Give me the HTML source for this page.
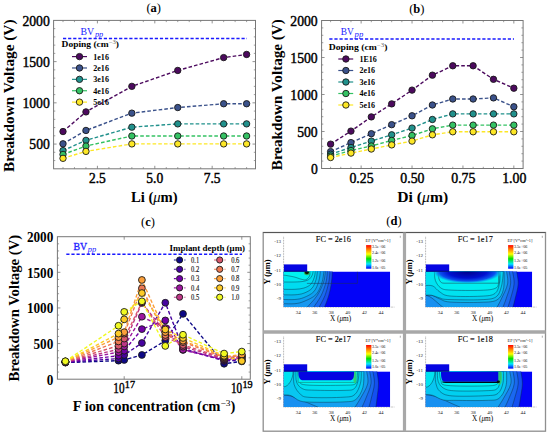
<!DOCTYPE html>
<html><head><meta charset="utf-8"><style>
html,body{margin:0;padding:0;background:#fff;}
svg{display:block;font-family:"Liberation Serif", serif;}
</style></head><body>
<svg width="550" height="434" viewBox="0 0 550 434">
<rect width="550" height="434" fill="#fff"/>
<text x="153.70" y="12.40" font-size="12.5" font-weight="normal" text-anchor="middle" fill="#000" >(<tspan font-weight="bold">a</tspan>)</text>
<rect x="53.6" y="20.4" width="201.9" height="148.4" fill="none" stroke="#777" stroke-width="1"/>
<path d="M53.6 144.07h3M255.5 144.07h-3" stroke="#777" stroke-width="0.8"/>
<path d="M53.6 102.84h3M255.5 102.84h-3" stroke="#777" stroke-width="0.8"/>
<path d="M53.6 61.62h3M255.5 61.62h-3" stroke="#777" stroke-width="0.8"/>
<path d="M53.6 160.56h1.7M255.5 160.56h-1.7" stroke="#777" stroke-width="0.7"/>
<path d="M53.6 152.31h1.7M255.5 152.31h-1.7" stroke="#777" stroke-width="0.7"/>
<path d="M53.6 135.82h1.7M255.5 135.82h-1.7" stroke="#777" stroke-width="0.7"/>
<path d="M53.6 127.58h1.7M255.5 127.58h-1.7" stroke="#777" stroke-width="0.7"/>
<path d="M53.6 119.33h1.7M255.5 119.33h-1.7" stroke="#777" stroke-width="0.7"/>
<path d="M53.6 111.09h1.7M255.5 111.09h-1.7" stroke="#777" stroke-width="0.7"/>
<path d="M53.6 94.60h1.7M255.5 94.60h-1.7" stroke="#777" stroke-width="0.7"/>
<path d="M53.6 86.36h1.7M255.5 86.36h-1.7" stroke="#777" stroke-width="0.7"/>
<path d="M53.6 78.11h1.7M255.5 78.11h-1.7" stroke="#777" stroke-width="0.7"/>
<path d="M53.6 69.87h1.7M255.5 69.87h-1.7" stroke="#777" stroke-width="0.7"/>
<path d="M53.6 53.38h1.7M255.5 53.38h-1.7" stroke="#777" stroke-width="0.7"/>
<path d="M53.6 45.13h1.7M255.5 45.13h-1.7" stroke="#777" stroke-width="0.7"/>
<path d="M53.6 36.89h1.7M255.5 36.89h-1.7" stroke="#777" stroke-width="0.7"/>
<path d="M53.6 28.64h1.7M255.5 28.64h-1.7" stroke="#777" stroke-width="0.7"/>
<path d="M97.42 168.8v-3M97.42 20.4v3" stroke="#777" stroke-width="0.8"/>
<path d="M154.80 168.8v-3M154.80 20.4v3" stroke="#777" stroke-width="0.8"/>
<path d="M212.17 168.8v-3M212.17 20.4v3" stroke="#777" stroke-width="0.8"/>
<path d="M63.00 168.8v-1.7M63.00 20.4v1.7" stroke="#777" stroke-width="0.7"/>
<path d="M74.47 168.8v-1.7M74.47 20.4v1.7" stroke="#777" stroke-width="0.7"/>
<path d="M85.95 168.8v-1.7M85.95 20.4v1.7" stroke="#777" stroke-width="0.7"/>
<path d="M108.90 168.8v-1.7M108.90 20.4v1.7" stroke="#777" stroke-width="0.7"/>
<path d="M120.38 168.8v-1.7M120.38 20.4v1.7" stroke="#777" stroke-width="0.7"/>
<path d="M131.85 168.8v-1.7M131.85 20.4v1.7" stroke="#777" stroke-width="0.7"/>
<path d="M143.32 168.8v-1.7M143.32 20.4v1.7" stroke="#777" stroke-width="0.7"/>
<path d="M166.27 168.8v-1.7M166.27 20.4v1.7" stroke="#777" stroke-width="0.7"/>
<path d="M177.75 168.8v-1.7M177.75 20.4v1.7" stroke="#777" stroke-width="0.7"/>
<path d="M189.22 168.8v-1.7M189.22 20.4v1.7" stroke="#777" stroke-width="0.7"/>
<path d="M200.70 168.8v-1.7M200.70 20.4v1.7" stroke="#777" stroke-width="0.7"/>
<path d="M223.65 168.8v-1.7M223.65 20.4v1.7" stroke="#777" stroke-width="0.7"/>
<path d="M235.12 168.8v-1.7M235.12 20.4v1.7" stroke="#777" stroke-width="0.7"/>
<path d="M246.60 168.8v-1.7M246.60 20.4v1.7" stroke="#777" stroke-width="0.7"/>
<text x="49.80" y="149.37" font-size="14.2" font-weight="normal" text-anchor="end" fill="#000" stroke="#000" stroke-width="0.45" textLength="20.5" lengthAdjust="spacingAndGlyphs">500</text>
<text x="49.80" y="108.14" font-size="14.2" font-weight="normal" text-anchor="end" fill="#000" stroke="#000" stroke-width="0.45" textLength="27.4" lengthAdjust="spacingAndGlyphs">1000</text>
<text x="49.80" y="66.92" font-size="14.2" font-weight="normal" text-anchor="end" fill="#000" stroke="#000" stroke-width="0.45" textLength="27.4" lengthAdjust="spacingAndGlyphs">1500</text>
<text x="49.80" y="25.70" font-size="14.2" font-weight="normal" text-anchor="end" fill="#000" stroke="#000" stroke-width="0.45" textLength="27.4" lengthAdjust="spacingAndGlyphs">2000</text>
<text x="97.42" y="183.10" font-size="14" font-weight="normal" text-anchor="middle" fill="#000" stroke="#000" stroke-width="0.45" textLength="16.9" lengthAdjust="spacingAndGlyphs">2.5</text>
<text x="154.80" y="183.10" font-size="14" font-weight="normal" text-anchor="middle" fill="#000" stroke="#000" stroke-width="0.45" textLength="16.9" lengthAdjust="spacingAndGlyphs">5.0</text>
<text x="212.17" y="183.10" font-size="14" font-weight="normal" text-anchor="middle" fill="#000" stroke="#000" stroke-width="0.45" textLength="16.9" lengthAdjust="spacingAndGlyphs">7.5</text>
<text x="130.90" y="201.80" font-size="14" font-weight="bold" text-anchor="start" fill="#000" textLength="46.8" lengthAdjust="spacingAndGlyphs">Li (<tspan font-style="italic" font-weight="normal">μ</tspan>m)</text>
<text transform="translate(14.0 172.0) rotate(-90)" font-size="15.5" font-weight="bold" textLength="152.5" lengthAdjust="spacingAndGlyphs">Breakdown Voltage (V)</text>
<path d="M63 38.4H247" stroke="#1a1aff" stroke-width="1.5" stroke-dasharray="3.2 1.9"/>
<text x="80.60" y="35.30" font-size="11" font-weight="normal" text-anchor="start" fill="#1a1aff" textLength="13.6" lengthAdjust="spacingAndGlyphs">BV</text>
<text x="95.00" y="37.20" font-size="8" font-weight="normal" text-anchor="start" fill="#1a1aff" font-style="italic" textLength="8.2" lengthAdjust="spacingAndGlyphs">pp</text>
<text x="61.60" y="46.80" font-size="8.5" font-weight="bold" text-anchor="start" fill="#000" textLength="57.4" lengthAdjust="spacingAndGlyphs">Doping (cm<tspan font-size="6" dy="-3" font-weight="normal" fill="#666">−3</tspan><tspan dy="3">)</tspan></text>
<path d="M63.00 131.54 L85.95 111.91 L131.85 86.36 L177.75 70.44 L223.65 57.58 L246.60 54.45" fill="none" stroke="#4c0a5e" stroke-width="1.4" stroke-dasharray="3.6 2.1"/>
<path d="M63.00 143.82 L85.95 130.46 L131.85 113.15 L177.75 107.54 L223.65 103.75 L246.60 103.75" fill="none" stroke="#3b528b" stroke-width="1.4" stroke-dasharray="3.6 2.1"/>
<path d="M63.00 150.58 L85.95 140.36 L131.85 127.17 L177.75 123.87 L223.65 123.87 L246.60 123.87" fill="none" stroke="#21918c" stroke-width="1.4" stroke-dasharray="3.6 2.1"/>
<path d="M63.00 154.45 L85.95 146.05 L131.85 135.99 L177.75 135.99 L223.65 135.99 L246.60 135.99" fill="none" stroke="#34c263" stroke-width="1.4" stroke-dasharray="3.6 2.1"/>
<path d="M63.00 158.33 L85.95 151.40 L131.85 143.90 L177.75 143.90 L223.65 143.90 L246.60 143.90" fill="none" stroke="#fde725" stroke-width="1.4" stroke-dasharray="3.6 2.1"/>
<circle cx="63.00" cy="131.54" r="3.2" fill="#4c0a5e" stroke="#1a1a1a" stroke-width="0.9"/>
<circle cx="85.95" cy="111.91" r="3.2" fill="#4c0a5e" stroke="#1a1a1a" stroke-width="0.9"/>
<circle cx="131.85" cy="86.36" r="3.2" fill="#4c0a5e" stroke="#1a1a1a" stroke-width="0.9"/>
<circle cx="177.75" cy="70.44" r="3.2" fill="#4c0a5e" stroke="#1a1a1a" stroke-width="0.9"/>
<circle cx="223.65" cy="57.58" r="3.2" fill="#4c0a5e" stroke="#1a1a1a" stroke-width="0.9"/>
<circle cx="246.60" cy="54.45" r="3.2" fill="#4c0a5e" stroke="#1a1a1a" stroke-width="0.9"/>
<circle cx="63.00" cy="143.82" r="3.2" fill="#3b528b" stroke="#1a1a1a" stroke-width="0.9"/>
<circle cx="85.95" cy="130.46" r="3.2" fill="#3b528b" stroke="#1a1a1a" stroke-width="0.9"/>
<circle cx="131.85" cy="113.15" r="3.2" fill="#3b528b" stroke="#1a1a1a" stroke-width="0.9"/>
<circle cx="177.75" cy="107.54" r="3.2" fill="#3b528b" stroke="#1a1a1a" stroke-width="0.9"/>
<circle cx="223.65" cy="103.75" r="3.2" fill="#3b528b" stroke="#1a1a1a" stroke-width="0.9"/>
<circle cx="246.60" cy="103.75" r="3.2" fill="#3b528b" stroke="#1a1a1a" stroke-width="0.9"/>
<circle cx="63.00" cy="150.58" r="3.2" fill="#21918c" stroke="#1a1a1a" stroke-width="0.9"/>
<circle cx="85.95" cy="140.36" r="3.2" fill="#21918c" stroke="#1a1a1a" stroke-width="0.9"/>
<circle cx="131.85" cy="127.17" r="3.2" fill="#21918c" stroke="#1a1a1a" stroke-width="0.9"/>
<circle cx="177.75" cy="123.87" r="3.2" fill="#21918c" stroke="#1a1a1a" stroke-width="0.9"/>
<circle cx="223.65" cy="123.87" r="3.2" fill="#21918c" stroke="#1a1a1a" stroke-width="0.9"/>
<circle cx="246.60" cy="123.87" r="3.2" fill="#21918c" stroke="#1a1a1a" stroke-width="0.9"/>
<circle cx="63.00" cy="154.45" r="3.2" fill="#34c263" stroke="#1a1a1a" stroke-width="0.9"/>
<circle cx="85.95" cy="146.05" r="3.2" fill="#34c263" stroke="#1a1a1a" stroke-width="0.9"/>
<circle cx="131.85" cy="135.99" r="3.2" fill="#34c263" stroke="#1a1a1a" stroke-width="0.9"/>
<circle cx="177.75" cy="135.99" r="3.2" fill="#34c263" stroke="#1a1a1a" stroke-width="0.9"/>
<circle cx="223.65" cy="135.99" r="3.2" fill="#34c263" stroke="#1a1a1a" stroke-width="0.9"/>
<circle cx="246.60" cy="135.99" r="3.2" fill="#34c263" stroke="#1a1a1a" stroke-width="0.9"/>
<circle cx="63.00" cy="158.33" r="3.2" fill="#fde725" stroke="#1a1a1a" stroke-width="0.9"/>
<circle cx="85.95" cy="151.40" r="3.2" fill="#fde725" stroke="#1a1a1a" stroke-width="0.9"/>
<circle cx="131.85" cy="143.90" r="3.2" fill="#fde725" stroke="#1a1a1a" stroke-width="0.9"/>
<circle cx="177.75" cy="143.90" r="3.2" fill="#fde725" stroke="#1a1a1a" stroke-width="0.9"/>
<circle cx="223.65" cy="143.90" r="3.2" fill="#fde725" stroke="#1a1a1a" stroke-width="0.9"/>
<circle cx="246.60" cy="143.90" r="3.2" fill="#fde725" stroke="#1a1a1a" stroke-width="0.9"/>
<path d="M72 56.60H87" stroke="#4c0a5e" stroke-width="1.2"/>
<circle cx="79.50" cy="56.60" r="3.2" fill="#4c0a5e" stroke="#1a1a1a" stroke-width="0.9"/>
<text x="93.30" y="59.50" font-size="8" font-weight="bold" text-anchor="start" fill="#000" textLength="15.6" lengthAdjust="spacingAndGlyphs">1e16</text>
<path d="M72 67.98H87" stroke="#3b528b" stroke-width="1.2"/>
<circle cx="79.50" cy="67.98" r="3.2" fill="#3b528b" stroke="#1a1a1a" stroke-width="0.9"/>
<text x="93.30" y="70.88" font-size="8" font-weight="bold" text-anchor="start" fill="#000" textLength="15.6" lengthAdjust="spacingAndGlyphs">2e16</text>
<path d="M72 79.36H87" stroke="#21918c" stroke-width="1.2"/>
<circle cx="79.50" cy="79.36" r="3.2" fill="#21918c" stroke="#1a1a1a" stroke-width="0.9"/>
<text x="93.30" y="82.26" font-size="8" font-weight="bold" text-anchor="start" fill="#000" textLength="15.6" lengthAdjust="spacingAndGlyphs">3e16</text>
<path d="M72 90.74H87" stroke="#34c263" stroke-width="1.2"/>
<circle cx="79.50" cy="90.74" r="3.2" fill="#34c263" stroke="#1a1a1a" stroke-width="0.9"/>
<text x="93.30" y="93.64" font-size="8" font-weight="bold" text-anchor="start" fill="#000" textLength="15.6" lengthAdjust="spacingAndGlyphs">4e16</text>
<path d="M72 102.12H87" stroke="#fde725" stroke-width="1.2"/>
<circle cx="79.50" cy="102.12" r="3.2" fill="#fde725" stroke="#1a1a1a" stroke-width="0.9"/>
<text x="93.30" y="105.02" font-size="8" font-weight="bold" text-anchor="start" fill="#000" textLength="15.6" lengthAdjust="spacingAndGlyphs">5e16</text>
<text x="416.80" y="13.00" font-size="12.5" font-weight="normal" text-anchor="middle" fill="#000" >(<tspan font-weight="bold">b</tspan>)</text>
<rect x="321.6" y="20.5" width="201.5" height="148.0" fill="none" stroke="#777" stroke-width="1"/>
<path d="M321.6 131.50h3M523.1 131.50h-3" stroke="#777" stroke-width="0.8"/>
<path d="M321.6 94.50h3M523.1 94.50h-3" stroke="#777" stroke-width="0.8"/>
<path d="M321.6 57.50h3M523.1 57.50h-3" stroke="#777" stroke-width="0.8"/>
<path d="M321.6 161.10h1.7M523.1 161.10h-1.7" stroke="#777" stroke-width="0.7"/>
<path d="M321.6 153.70h1.7M523.1 153.70h-1.7" stroke="#777" stroke-width="0.7"/>
<path d="M321.6 146.30h1.7M523.1 146.30h-1.7" stroke="#777" stroke-width="0.7"/>
<path d="M321.6 138.90h1.7M523.1 138.90h-1.7" stroke="#777" stroke-width="0.7"/>
<path d="M321.6 124.10h1.7M523.1 124.10h-1.7" stroke="#777" stroke-width="0.7"/>
<path d="M321.6 116.70h1.7M523.1 116.70h-1.7" stroke="#777" stroke-width="0.7"/>
<path d="M321.6 109.30h1.7M523.1 109.30h-1.7" stroke="#777" stroke-width="0.7"/>
<path d="M321.6 101.90h1.7M523.1 101.90h-1.7" stroke="#777" stroke-width="0.7"/>
<path d="M321.6 87.10h1.7M523.1 87.10h-1.7" stroke="#777" stroke-width="0.7"/>
<path d="M321.6 79.70h1.7M523.1 79.70h-1.7" stroke="#777" stroke-width="0.7"/>
<path d="M321.6 72.30h1.7M523.1 72.30h-1.7" stroke="#777" stroke-width="0.7"/>
<path d="M321.6 64.90h1.7M523.1 64.90h-1.7" stroke="#777" stroke-width="0.7"/>
<path d="M321.6 50.10h1.7M523.1 50.10h-1.7" stroke="#777" stroke-width="0.7"/>
<path d="M321.6 42.70h1.7M523.1 42.70h-1.7" stroke="#777" stroke-width="0.7"/>
<path d="M321.6 35.30h1.7M523.1 35.30h-1.7" stroke="#777" stroke-width="0.7"/>
<path d="M321.6 27.90h1.7M523.1 27.90h-1.7" stroke="#777" stroke-width="0.7"/>
<path d="M361.14 168.5v-3M361.14 20.5v3" stroke="#777" stroke-width="0.8"/>
<path d="M412.04 168.5v-3M412.04 20.5v3" stroke="#777" stroke-width="0.8"/>
<path d="M462.94 168.5v-3M462.94 20.5v3" stroke="#777" stroke-width="0.8"/>
<path d="M513.84 168.5v-3M513.84 20.5v3" stroke="#777" stroke-width="0.8"/>
<path d="M330.60 168.5v-1.7M330.60 20.5v1.7" stroke="#777" stroke-width="0.7"/>
<path d="M340.78 168.5v-1.7M340.78 20.5v1.7" stroke="#777" stroke-width="0.7"/>
<path d="M350.96 168.5v-1.7M350.96 20.5v1.7" stroke="#777" stroke-width="0.7"/>
<path d="M371.32 168.5v-1.7M371.32 20.5v1.7" stroke="#777" stroke-width="0.7"/>
<path d="M381.50 168.5v-1.7M381.50 20.5v1.7" stroke="#777" stroke-width="0.7"/>
<path d="M391.68 168.5v-1.7M391.68 20.5v1.7" stroke="#777" stroke-width="0.7"/>
<path d="M401.86 168.5v-1.7M401.86 20.5v1.7" stroke="#777" stroke-width="0.7"/>
<path d="M422.22 168.5v-1.7M422.22 20.5v1.7" stroke="#777" stroke-width="0.7"/>
<path d="M432.40 168.5v-1.7M432.40 20.5v1.7" stroke="#777" stroke-width="0.7"/>
<path d="M442.58 168.5v-1.7M442.58 20.5v1.7" stroke="#777" stroke-width="0.7"/>
<path d="M452.76 168.5v-1.7M452.76 20.5v1.7" stroke="#777" stroke-width="0.7"/>
<path d="M473.12 168.5v-1.7M473.12 20.5v1.7" stroke="#777" stroke-width="0.7"/>
<path d="M483.30 168.5v-1.7M483.30 20.5v1.7" stroke="#777" stroke-width="0.7"/>
<path d="M493.48 168.5v-1.7M493.48 20.5v1.7" stroke="#777" stroke-width="0.7"/>
<path d="M503.66 168.5v-1.7M503.66 20.5v1.7" stroke="#777" stroke-width="0.7"/>
<text x="317.70" y="173.80" font-size="14.2" font-weight="normal" text-anchor="end" fill="#000" stroke="#000" stroke-width="0.45" textLength="6.8" lengthAdjust="spacingAndGlyphs">0</text>
<text x="317.70" y="136.80" font-size="14.2" font-weight="normal" text-anchor="end" fill="#000" stroke="#000" stroke-width="0.45" textLength="20.5" lengthAdjust="spacingAndGlyphs">500</text>
<text x="317.70" y="99.80" font-size="14.2" font-weight="normal" text-anchor="end" fill="#000" stroke="#000" stroke-width="0.45" textLength="27.4" lengthAdjust="spacingAndGlyphs">1000</text>
<text x="317.70" y="62.80" font-size="14.2" font-weight="normal" text-anchor="end" fill="#000" stroke="#000" stroke-width="0.45" textLength="27.4" lengthAdjust="spacingAndGlyphs">1500</text>
<text x="317.70" y="25.80" font-size="14.2" font-weight="normal" text-anchor="end" fill="#000" stroke="#000" stroke-width="0.45" textLength="27.4" lengthAdjust="spacingAndGlyphs">2000</text>
<text x="361.54" y="183.30" font-size="14.5" font-weight="normal" text-anchor="middle" fill="#000" stroke="#000" stroke-width="0.45" textLength="24.2" lengthAdjust="spacingAndGlyphs">0.25</text>
<text x="412.44" y="183.30" font-size="14.5" font-weight="normal" text-anchor="middle" fill="#000" stroke="#000" stroke-width="0.45" textLength="24.2" lengthAdjust="spacingAndGlyphs">0.50</text>
<text x="463.34" y="183.30" font-size="14.5" font-weight="normal" text-anchor="middle" fill="#000" stroke="#000" stroke-width="0.45" textLength="24.2" lengthAdjust="spacingAndGlyphs">0.75</text>
<text x="514.24" y="183.30" font-size="14.5" font-weight="normal" text-anchor="middle" fill="#000" stroke="#000" stroke-width="0.45" textLength="24.2" lengthAdjust="spacingAndGlyphs">1.00</text>
<text x="397.30" y="201.80" font-size="14" font-weight="bold" text-anchor="start" fill="#000" textLength="50.9" lengthAdjust="spacingAndGlyphs">Di (<tspan font-style="italic" font-weight="normal">μ</tspan>m)</text>
<text transform="translate(281.8 170.2) rotate(-90)" font-size="15.5" font-weight="bold" textLength="151" lengthAdjust="spacingAndGlyphs">Breakdown Voltage (V)</text>
<path d="M329.3 38.9H514" stroke="#1a1aff" stroke-width="1.5" stroke-dasharray="3.2 1.9"/>
<text x="340.70" y="35.30" font-size="11" font-weight="normal" text-anchor="start" fill="#1a1aff" textLength="13.0" lengthAdjust="spacingAndGlyphs">BV</text>
<text x="354.60" y="37.40" font-size="8" font-weight="normal" text-anchor="start" fill="#1a1aff" font-style="italic" textLength="8.6" lengthAdjust="spacingAndGlyphs">pp</text>
<text x="328.70" y="50.30" font-size="8.5" font-weight="bold" text-anchor="start" fill="#000" textLength="58.7" lengthAdjust="spacingAndGlyphs">Doping (cm<tspan font-size="6" dy="-3" font-weight="normal" fill="#666">−3</tspan><tspan dy="3">)</tspan></text>
<path d="M330.60 144.14 L350.96 131.11 L371.32 116.90 L391.68 103.88 L412.04 90.12 L432.40 75.17 L452.76 65.77 L473.12 65.77 L493.48 79.31 L513.84 88.19" fill="none" stroke="#4c0a5e" stroke-width="1.4" stroke-dasharray="3.6 2.1"/>
<path d="M330.60 151.61 L350.96 142.58 L371.32 133.70 L391.68 124.67 L412.04 115.79 L432.40 104.99 L452.76 99.00 L473.12 99.00 L493.48 97.89 L513.84 106.77" fill="none" stroke="#3b528b" stroke-width="1.4" stroke-dasharray="3.6 2.1"/>
<path d="M330.60 154.20 L350.96 147.54 L371.32 141.10 L391.68 134.81 L412.04 128.08 L432.40 119.49 L452.76 113.87 L473.12 113.87 L493.48 113.87 L513.84 113.87" fill="none" stroke="#21918c" stroke-width="1.4" stroke-dasharray="3.6 2.1"/>
<path d="M330.60 156.05 L350.96 150.50 L371.32 145.99 L391.68 140.44 L412.04 135.48 L432.40 128.82 L452.76 125.12 L473.12 125.12 L493.48 125.12 L513.84 125.12" fill="none" stroke="#34c263" stroke-width="1.4" stroke-dasharray="3.6 2.1"/>
<path d="M330.60 157.53 L350.96 153.09 L371.32 149.02 L391.68 144.88 L412.04 141.10 L432.40 134.81 L452.76 131.78 L473.12 131.78 L493.48 131.78 L513.84 131.78" fill="none" stroke="#fde725" stroke-width="1.4" stroke-dasharray="3.6 2.1"/>
<circle cx="330.60" cy="144.14" r="3.2" fill="#4c0a5e" stroke="#1a1a1a" stroke-width="0.9"/>
<circle cx="350.96" cy="131.11" r="3.2" fill="#4c0a5e" stroke="#1a1a1a" stroke-width="0.9"/>
<circle cx="371.32" cy="116.90" r="3.2" fill="#4c0a5e" stroke="#1a1a1a" stroke-width="0.9"/>
<circle cx="391.68" cy="103.88" r="3.2" fill="#4c0a5e" stroke="#1a1a1a" stroke-width="0.9"/>
<circle cx="412.04" cy="90.12" r="3.2" fill="#4c0a5e" stroke="#1a1a1a" stroke-width="0.9"/>
<circle cx="432.40" cy="75.17" r="3.2" fill="#4c0a5e" stroke="#1a1a1a" stroke-width="0.9"/>
<circle cx="452.76" cy="65.77" r="3.2" fill="#4c0a5e" stroke="#1a1a1a" stroke-width="0.9"/>
<circle cx="473.12" cy="65.77" r="3.2" fill="#4c0a5e" stroke="#1a1a1a" stroke-width="0.9"/>
<circle cx="493.48" cy="79.31" r="3.2" fill="#4c0a5e" stroke="#1a1a1a" stroke-width="0.9"/>
<circle cx="513.84" cy="88.19" r="3.2" fill="#4c0a5e" stroke="#1a1a1a" stroke-width="0.9"/>
<circle cx="330.60" cy="151.61" r="3.2" fill="#3b528b" stroke="#1a1a1a" stroke-width="0.9"/>
<circle cx="350.96" cy="142.58" r="3.2" fill="#3b528b" stroke="#1a1a1a" stroke-width="0.9"/>
<circle cx="371.32" cy="133.70" r="3.2" fill="#3b528b" stroke="#1a1a1a" stroke-width="0.9"/>
<circle cx="391.68" cy="124.67" r="3.2" fill="#3b528b" stroke="#1a1a1a" stroke-width="0.9"/>
<circle cx="412.04" cy="115.79" r="3.2" fill="#3b528b" stroke="#1a1a1a" stroke-width="0.9"/>
<circle cx="432.40" cy="104.99" r="3.2" fill="#3b528b" stroke="#1a1a1a" stroke-width="0.9"/>
<circle cx="452.76" cy="99.00" r="3.2" fill="#3b528b" stroke="#1a1a1a" stroke-width="0.9"/>
<circle cx="473.12" cy="99.00" r="3.2" fill="#3b528b" stroke="#1a1a1a" stroke-width="0.9"/>
<circle cx="493.48" cy="97.89" r="3.2" fill="#3b528b" stroke="#1a1a1a" stroke-width="0.9"/>
<circle cx="513.84" cy="106.77" r="3.2" fill="#3b528b" stroke="#1a1a1a" stroke-width="0.9"/>
<circle cx="330.60" cy="154.20" r="3.2" fill="#21918c" stroke="#1a1a1a" stroke-width="0.9"/>
<circle cx="350.96" cy="147.54" r="3.2" fill="#21918c" stroke="#1a1a1a" stroke-width="0.9"/>
<circle cx="371.32" cy="141.10" r="3.2" fill="#21918c" stroke="#1a1a1a" stroke-width="0.9"/>
<circle cx="391.68" cy="134.81" r="3.2" fill="#21918c" stroke="#1a1a1a" stroke-width="0.9"/>
<circle cx="412.04" cy="128.08" r="3.2" fill="#21918c" stroke="#1a1a1a" stroke-width="0.9"/>
<circle cx="432.40" cy="119.49" r="3.2" fill="#21918c" stroke="#1a1a1a" stroke-width="0.9"/>
<circle cx="452.76" cy="113.87" r="3.2" fill="#21918c" stroke="#1a1a1a" stroke-width="0.9"/>
<circle cx="473.12" cy="113.87" r="3.2" fill="#21918c" stroke="#1a1a1a" stroke-width="0.9"/>
<circle cx="493.48" cy="113.87" r="3.2" fill="#21918c" stroke="#1a1a1a" stroke-width="0.9"/>
<circle cx="513.84" cy="113.87" r="3.2" fill="#21918c" stroke="#1a1a1a" stroke-width="0.9"/>
<circle cx="330.60" cy="156.05" r="3.2" fill="#34c263" stroke="#1a1a1a" stroke-width="0.9"/>
<circle cx="350.96" cy="150.50" r="3.2" fill="#34c263" stroke="#1a1a1a" stroke-width="0.9"/>
<circle cx="371.32" cy="145.99" r="3.2" fill="#34c263" stroke="#1a1a1a" stroke-width="0.9"/>
<circle cx="391.68" cy="140.44" r="3.2" fill="#34c263" stroke="#1a1a1a" stroke-width="0.9"/>
<circle cx="412.04" cy="135.48" r="3.2" fill="#34c263" stroke="#1a1a1a" stroke-width="0.9"/>
<circle cx="432.40" cy="128.82" r="3.2" fill="#34c263" stroke="#1a1a1a" stroke-width="0.9"/>
<circle cx="452.76" cy="125.12" r="3.2" fill="#34c263" stroke="#1a1a1a" stroke-width="0.9"/>
<circle cx="473.12" cy="125.12" r="3.2" fill="#34c263" stroke="#1a1a1a" stroke-width="0.9"/>
<circle cx="493.48" cy="125.12" r="3.2" fill="#34c263" stroke="#1a1a1a" stroke-width="0.9"/>
<circle cx="513.84" cy="125.12" r="3.2" fill="#34c263" stroke="#1a1a1a" stroke-width="0.9"/>
<circle cx="330.60" cy="157.53" r="3.2" fill="#fde725" stroke="#1a1a1a" stroke-width="0.9"/>
<circle cx="350.96" cy="153.09" r="3.2" fill="#fde725" stroke="#1a1a1a" stroke-width="0.9"/>
<circle cx="371.32" cy="149.02" r="3.2" fill="#fde725" stroke="#1a1a1a" stroke-width="0.9"/>
<circle cx="391.68" cy="144.88" r="3.2" fill="#fde725" stroke="#1a1a1a" stroke-width="0.9"/>
<circle cx="412.04" cy="141.10" r="3.2" fill="#fde725" stroke="#1a1a1a" stroke-width="0.9"/>
<circle cx="432.40" cy="134.81" r="3.2" fill="#fde725" stroke="#1a1a1a" stroke-width="0.9"/>
<circle cx="452.76" cy="131.78" r="3.2" fill="#fde725" stroke="#1a1a1a" stroke-width="0.9"/>
<circle cx="473.12" cy="131.78" r="3.2" fill="#fde725" stroke="#1a1a1a" stroke-width="0.9"/>
<circle cx="493.48" cy="131.78" r="3.2" fill="#fde725" stroke="#1a1a1a" stroke-width="0.9"/>
<circle cx="513.84" cy="131.78" r="3.2" fill="#fde725" stroke="#1a1a1a" stroke-width="0.9"/>
<path d="M338.3 59.00H353.2" stroke="#4c0a5e" stroke-width="1.2"/>
<circle cx="345.90" cy="59.00" r="3.2" fill="#4c0a5e" stroke="#1a1a1a" stroke-width="0.9"/>
<text x="359.40" y="61.90" font-size="8" font-weight="bold" text-anchor="start" fill="#000" >1E16</text>
<path d="M338.3 70.50H353.2" stroke="#3b528b" stroke-width="1.2"/>
<circle cx="345.90" cy="70.50" r="3.2" fill="#3b528b" stroke="#1a1a1a" stroke-width="0.9"/>
<text x="359.40" y="73.40" font-size="8" font-weight="bold" text-anchor="start" fill="#000" >2e16</text>
<path d="M338.3 82.00H353.2" stroke="#21918c" stroke-width="1.2"/>
<circle cx="345.90" cy="82.00" r="3.2" fill="#21918c" stroke="#1a1a1a" stroke-width="0.9"/>
<text x="359.40" y="84.90" font-size="8" font-weight="bold" text-anchor="start" fill="#000" >3e16</text>
<path d="M338.3 93.50H353.2" stroke="#34c263" stroke-width="1.2"/>
<circle cx="345.90" cy="93.50" r="3.2" fill="#34c263" stroke="#1a1a1a" stroke-width="0.9"/>
<text x="359.40" y="96.40" font-size="8" font-weight="bold" text-anchor="start" fill="#000" >4e16</text>
<path d="M338.3 105.00H353.2" stroke="#fde725" stroke-width="1.2"/>
<circle cx="345.90" cy="105.00" r="3.2" fill="#fde725" stroke="#1a1a1a" stroke-width="0.9"/>
<text x="359.40" y="107.90" font-size="8" font-weight="bold" text-anchor="start" fill="#000" >5e16</text>
<text x="148.00" y="226.10" font-size="12.5" font-weight="normal" text-anchor="middle" fill="#000" >(<tspan font-weight="bold">c</tspan>)</text>
<rect x="57.4" y="236.7" width="192.9" height="142.5" fill="none" stroke="#777" stroke-width="1"/>
<path d="M57.4 343.57h3M250.3 343.57h-3" stroke="#777" stroke-width="0.8"/>
<path d="M57.4 307.95h3M250.3 307.95h-3" stroke="#777" stroke-width="0.8"/>
<path d="M57.4 272.32h3M250.3 272.32h-3" stroke="#777" stroke-width="0.8"/>
<path d="M57.4 372.07h1.7M250.3 372.07h-1.7" stroke="#777" stroke-width="0.7"/>
<path d="M57.4 364.95h1.7M250.3 364.95h-1.7" stroke="#777" stroke-width="0.7"/>
<path d="M57.4 357.82h1.7M250.3 357.82h-1.7" stroke="#777" stroke-width="0.7"/>
<path d="M57.4 350.70h1.7M250.3 350.70h-1.7" stroke="#777" stroke-width="0.7"/>
<path d="M57.4 336.45h1.7M250.3 336.45h-1.7" stroke="#777" stroke-width="0.7"/>
<path d="M57.4 329.32h1.7M250.3 329.32h-1.7" stroke="#777" stroke-width="0.7"/>
<path d="M57.4 322.20h1.7M250.3 322.20h-1.7" stroke="#777" stroke-width="0.7"/>
<path d="M57.4 315.07h1.7M250.3 315.07h-1.7" stroke="#777" stroke-width="0.7"/>
<path d="M57.4 300.82h1.7M250.3 300.82h-1.7" stroke="#777" stroke-width="0.7"/>
<path d="M57.4 293.70h1.7M250.3 293.70h-1.7" stroke="#777" stroke-width="0.7"/>
<path d="M57.4 286.57h1.7M250.3 286.57h-1.7" stroke="#777" stroke-width="0.7"/>
<path d="M57.4 279.45h1.7M250.3 279.45h-1.7" stroke="#777" stroke-width="0.7"/>
<path d="M57.4 265.20h1.7M250.3 265.20h-1.7" stroke="#777" stroke-width="0.7"/>
<path d="M57.4 258.07h1.7M250.3 258.07h-1.7" stroke="#777" stroke-width="0.7"/>
<path d="M57.4 250.95h1.7M250.3 250.95h-1.7" stroke="#777" stroke-width="0.7"/>
<path d="M57.4 243.82h1.7M250.3 243.82h-1.7" stroke="#777" stroke-width="0.7"/>
<path d="M124.20 379.2v-3M124.20 236.7v3" stroke="#777" stroke-width="0.8"/>
<path d="M241.80 379.2v-3M241.80 236.7v3" stroke="#777" stroke-width="0.8"/>
<text x="53.30" y="384.50" font-size="13.8" font-weight="bold" text-anchor="end" fill="#000" textLength="6.6" lengthAdjust="spacingAndGlyphs">0</text>
<text x="53.30" y="348.88" font-size="13.8" font-weight="bold" text-anchor="end" fill="#000" textLength="19.8" lengthAdjust="spacingAndGlyphs">500</text>
<text x="53.30" y="313.25" font-size="13.8" font-weight="bold" text-anchor="end" fill="#000" textLength="26.4" lengthAdjust="spacingAndGlyphs">1000</text>
<text x="53.30" y="277.62" font-size="13.8" font-weight="bold" text-anchor="end" fill="#000" textLength="26.4" lengthAdjust="spacingAndGlyphs">1500</text>
<text x="53.30" y="242.00" font-size="13.8" font-weight="bold" text-anchor="end" fill="#000" textLength="26.4" lengthAdjust="spacingAndGlyphs">2000</text>
<text x="113.30" y="393.00" font-size="14.5" font-weight="normal" text-anchor="start" fill="#000" stroke="#000" stroke-width="0.45" textLength="11.2" lengthAdjust="spacingAndGlyphs">10</text>
<text x="124.80" y="387.90" font-size="9.5" font-weight="normal" text-anchor="start" fill="#000" stroke="#000" stroke-width="0.35" textLength="10.2" lengthAdjust="spacingAndGlyphs">17</text>
<text x="230.90" y="393.00" font-size="14.5" font-weight="normal" text-anchor="start" fill="#000" stroke="#000" stroke-width="0.45" textLength="11.2" lengthAdjust="spacingAndGlyphs">10</text>
<text x="242.40" y="387.90" font-size="9.5" font-weight="normal" text-anchor="start" fill="#000" stroke="#000" stroke-width="0.35" textLength="10.2" lengthAdjust="spacingAndGlyphs">19</text>
<text x="72.70" y="411.40" font-size="14" font-weight="bold" text-anchor="start" fill="#000" textLength="162.6" lengthAdjust="spacingAndGlyphs">F ion concentration (cm<tspan font-size="9" font-weight="normal" dy="-5">−3</tspan><tspan dy="5">)</tspan></text>
<text transform="translate(18.8 381.6) rotate(-90)" font-size="15" font-weight="bold" textLength="146.8" lengthAdjust="spacingAndGlyphs">Breakdown Voltage (V)</text>
<path d="M66.3 254.3H242" stroke="#1a1aff" stroke-width="1.5" stroke-dasharray="3.2 1.9"/>
<text x="73.40" y="250.30" font-size="11" font-weight="normal" text-anchor="start" fill="#1a1aff" stroke="#1a1aff" stroke-width="0.3" textLength="13.7" lengthAdjust="spacingAndGlyphs">BV</text>
<text x="87.80" y="252.30" font-size="8" font-weight="normal" text-anchor="start" fill="#1a1aff" font-style="italic" textLength="8.4" lengthAdjust="spacingAndGlyphs">pp</text>
<text x="169.50" y="251.40" font-size="8.5" font-weight="bold" text-anchor="start" fill="#000" textLength="75.6" lengthAdjust="spacingAndGlyphs">Implant depth (μm)</text>
<path d="M65.40 362.60 L118.50 360.68 L124.20 359.96 L141.90 354.97 L165.30 340.72 L183.00 313.86 L224.10 363.74 L241.80 361.39" fill="none" stroke="#0d0887" stroke-width="1.4" stroke-dasharray="3.6 2.1"/>
<path d="M65.40 362.38 L118.50 358.54 L124.20 354.97 L141.90 343.00 L165.30 302.75 L183.00 348.56 L224.10 360.89 L241.80 360.32" fill="none" stroke="#46039f" stroke-width="1.4" stroke-dasharray="3.6 2.1"/>
<path d="M65.40 362.24 L118.50 355.69 L124.20 350.70 L141.90 329.11 L165.30 320.42 L183.00 349.92 L224.10 359.96 L241.80 358.89" fill="none" stroke="#7201a8" stroke-width="1.4" stroke-dasharray="3.6 2.1"/>
<path d="M65.40 362.10 L118.50 352.12 L124.20 346.43 L141.90 316.71 L165.30 327.90 L183.00 349.63 L224.10 359.39 L241.80 357.82" fill="none" stroke="#9c179e" stroke-width="1.4" stroke-dasharray="3.6 2.1"/>
<path d="M65.40 361.96 L118.50 349.27 L124.20 343.57 L141.90 302.96 L165.30 332.18 L183.00 346.71 L224.10 358.68 L241.80 356.76" fill="none" stroke="#bd3786" stroke-width="1.4" stroke-dasharray="3.6 2.1"/>
<path d="M65.40 361.81 L118.50 345.71 L124.20 338.59 L141.90 302.25 L165.30 337.02 L183.00 345.00 L224.10 357.97 L241.80 356.04" fill="none" stroke="#d8576b" stroke-width="1.4" stroke-dasharray="3.6 2.1"/>
<path d="M65.40 361.67 L118.50 341.44 L124.20 333.60 L141.90 288.28 L165.30 335.02 L183.00 342.15 L224.10 357.40 L241.80 355.33" fill="none" stroke="#ed7953" stroke-width="1.4" stroke-dasharray="3.6 2.1"/>
<path d="M65.40 361.53 L118.50 337.16 L124.20 332.18 L141.90 279.95 L165.30 332.18 L183.00 340.72 L224.10 356.54 L241.80 354.62" fill="none" stroke="#fb9f3a" stroke-width="1.4" stroke-dasharray="3.6 2.1"/>
<path d="M65.40 361.39 L118.50 333.60 L124.20 319.35 L141.90 293.06 L165.30 329.47 L183.00 337.95 L224.10 355.83 L241.80 361.03" fill="none" stroke="#fdca26" stroke-width="1.4" stroke-dasharray="3.6 2.1"/>
<path d="M65.40 361.25 L118.50 325.76 L124.20 311.87 L141.90 301.32 L165.30 345.93 L183.00 334.74 L224.10 353.55 L241.80 351.56" fill="none" stroke="#f0f921" stroke-width="1.4" stroke-dasharray="3.6 2.1"/>
<circle cx="65.40" cy="362.60" r="3.4" fill="#0d0887" stroke="#1a1a1a" stroke-width="0.9"/>
<circle cx="118.50" cy="360.68" r="3.4" fill="#0d0887" stroke="#1a1a1a" stroke-width="0.9"/>
<circle cx="124.20" cy="359.96" r="3.4" fill="#0d0887" stroke="#1a1a1a" stroke-width="0.9"/>
<circle cx="141.90" cy="354.97" r="3.4" fill="#0d0887" stroke="#1a1a1a" stroke-width="0.9"/>
<circle cx="165.30" cy="340.72" r="3.4" fill="#0d0887" stroke="#1a1a1a" stroke-width="0.9"/>
<circle cx="183.00" cy="313.86" r="3.4" fill="#0d0887" stroke="#1a1a1a" stroke-width="0.9"/>
<circle cx="224.10" cy="363.74" r="3.4" fill="#0d0887" stroke="#1a1a1a" stroke-width="0.9"/>
<circle cx="241.80" cy="361.39" r="3.4" fill="#0d0887" stroke="#1a1a1a" stroke-width="0.9"/>
<circle cx="65.40" cy="362.38" r="3.4" fill="#46039f" stroke="#1a1a1a" stroke-width="0.9"/>
<circle cx="118.50" cy="358.54" r="3.4" fill="#46039f" stroke="#1a1a1a" stroke-width="0.9"/>
<circle cx="124.20" cy="354.97" r="3.4" fill="#46039f" stroke="#1a1a1a" stroke-width="0.9"/>
<circle cx="141.90" cy="343.00" r="3.4" fill="#46039f" stroke="#1a1a1a" stroke-width="0.9"/>
<circle cx="165.30" cy="302.75" r="3.4" fill="#46039f" stroke="#1a1a1a" stroke-width="0.9"/>
<circle cx="183.00" cy="348.56" r="3.4" fill="#46039f" stroke="#1a1a1a" stroke-width="0.9"/>
<circle cx="224.10" cy="360.89" r="3.4" fill="#46039f" stroke="#1a1a1a" stroke-width="0.9"/>
<circle cx="241.80" cy="360.32" r="3.4" fill="#46039f" stroke="#1a1a1a" stroke-width="0.9"/>
<circle cx="65.40" cy="362.24" r="3.4" fill="#7201a8" stroke="#1a1a1a" stroke-width="0.9"/>
<circle cx="118.50" cy="355.69" r="3.4" fill="#7201a8" stroke="#1a1a1a" stroke-width="0.9"/>
<circle cx="124.20" cy="350.70" r="3.4" fill="#7201a8" stroke="#1a1a1a" stroke-width="0.9"/>
<circle cx="141.90" cy="329.11" r="3.4" fill="#7201a8" stroke="#1a1a1a" stroke-width="0.9"/>
<circle cx="165.30" cy="320.42" r="3.4" fill="#7201a8" stroke="#1a1a1a" stroke-width="0.9"/>
<circle cx="183.00" cy="349.92" r="3.4" fill="#7201a8" stroke="#1a1a1a" stroke-width="0.9"/>
<circle cx="224.10" cy="359.96" r="3.4" fill="#7201a8" stroke="#1a1a1a" stroke-width="0.9"/>
<circle cx="241.80" cy="358.89" r="3.4" fill="#7201a8" stroke="#1a1a1a" stroke-width="0.9"/>
<circle cx="65.40" cy="362.10" r="3.4" fill="#9c179e" stroke="#1a1a1a" stroke-width="0.9"/>
<circle cx="118.50" cy="352.12" r="3.4" fill="#9c179e" stroke="#1a1a1a" stroke-width="0.9"/>
<circle cx="124.20" cy="346.43" r="3.4" fill="#9c179e" stroke="#1a1a1a" stroke-width="0.9"/>
<circle cx="141.90" cy="316.71" r="3.4" fill="#9c179e" stroke="#1a1a1a" stroke-width="0.9"/>
<circle cx="165.30" cy="327.90" r="3.4" fill="#9c179e" stroke="#1a1a1a" stroke-width="0.9"/>
<circle cx="183.00" cy="349.63" r="3.4" fill="#9c179e" stroke="#1a1a1a" stroke-width="0.9"/>
<circle cx="224.10" cy="359.39" r="3.4" fill="#9c179e" stroke="#1a1a1a" stroke-width="0.9"/>
<circle cx="241.80" cy="357.82" r="3.4" fill="#9c179e" stroke="#1a1a1a" stroke-width="0.9"/>
<circle cx="65.40" cy="361.96" r="3.4" fill="#bd3786" stroke="#1a1a1a" stroke-width="0.9"/>
<circle cx="118.50" cy="349.27" r="3.4" fill="#bd3786" stroke="#1a1a1a" stroke-width="0.9"/>
<circle cx="124.20" cy="343.57" r="3.4" fill="#bd3786" stroke="#1a1a1a" stroke-width="0.9"/>
<circle cx="141.90" cy="302.96" r="3.4" fill="#bd3786" stroke="#1a1a1a" stroke-width="0.9"/>
<circle cx="165.30" cy="332.18" r="3.4" fill="#bd3786" stroke="#1a1a1a" stroke-width="0.9"/>
<circle cx="183.00" cy="346.71" r="3.4" fill="#bd3786" stroke="#1a1a1a" stroke-width="0.9"/>
<circle cx="224.10" cy="358.68" r="3.4" fill="#bd3786" stroke="#1a1a1a" stroke-width="0.9"/>
<circle cx="241.80" cy="356.76" r="3.4" fill="#bd3786" stroke="#1a1a1a" stroke-width="0.9"/>
<circle cx="65.40" cy="361.81" r="3.4" fill="#d8576b" stroke="#1a1a1a" stroke-width="0.9"/>
<circle cx="118.50" cy="345.71" r="3.4" fill="#d8576b" stroke="#1a1a1a" stroke-width="0.9"/>
<circle cx="124.20" cy="338.59" r="3.4" fill="#d8576b" stroke="#1a1a1a" stroke-width="0.9"/>
<circle cx="141.90" cy="302.25" r="3.4" fill="#d8576b" stroke="#1a1a1a" stroke-width="0.9"/>
<circle cx="165.30" cy="337.02" r="3.4" fill="#d8576b" stroke="#1a1a1a" stroke-width="0.9"/>
<circle cx="183.00" cy="345.00" r="3.4" fill="#d8576b" stroke="#1a1a1a" stroke-width="0.9"/>
<circle cx="224.10" cy="357.97" r="3.4" fill="#d8576b" stroke="#1a1a1a" stroke-width="0.9"/>
<circle cx="241.80" cy="356.04" r="3.4" fill="#d8576b" stroke="#1a1a1a" stroke-width="0.9"/>
<circle cx="65.40" cy="361.67" r="3.4" fill="#ed7953" stroke="#1a1a1a" stroke-width="0.9"/>
<circle cx="118.50" cy="341.44" r="3.4" fill="#ed7953" stroke="#1a1a1a" stroke-width="0.9"/>
<circle cx="124.20" cy="333.60" r="3.4" fill="#ed7953" stroke="#1a1a1a" stroke-width="0.9"/>
<circle cx="141.90" cy="288.28" r="3.4" fill="#ed7953" stroke="#1a1a1a" stroke-width="0.9"/>
<circle cx="165.30" cy="335.02" r="3.4" fill="#ed7953" stroke="#1a1a1a" stroke-width="0.9"/>
<circle cx="183.00" cy="342.15" r="3.4" fill="#ed7953" stroke="#1a1a1a" stroke-width="0.9"/>
<circle cx="224.10" cy="357.40" r="3.4" fill="#ed7953" stroke="#1a1a1a" stroke-width="0.9"/>
<circle cx="241.80" cy="355.33" r="3.4" fill="#ed7953" stroke="#1a1a1a" stroke-width="0.9"/>
<circle cx="65.40" cy="361.53" r="3.4" fill="#fb9f3a" stroke="#1a1a1a" stroke-width="0.9"/>
<circle cx="118.50" cy="337.16" r="3.4" fill="#fb9f3a" stroke="#1a1a1a" stroke-width="0.9"/>
<circle cx="124.20" cy="332.18" r="3.4" fill="#fb9f3a" stroke="#1a1a1a" stroke-width="0.9"/>
<circle cx="141.90" cy="279.95" r="3.4" fill="#fb9f3a" stroke="#1a1a1a" stroke-width="0.9"/>
<circle cx="165.30" cy="332.18" r="3.4" fill="#fb9f3a" stroke="#1a1a1a" stroke-width="0.9"/>
<circle cx="183.00" cy="340.72" r="3.4" fill="#fb9f3a" stroke="#1a1a1a" stroke-width="0.9"/>
<circle cx="224.10" cy="356.54" r="3.4" fill="#fb9f3a" stroke="#1a1a1a" stroke-width="0.9"/>
<circle cx="241.80" cy="354.62" r="3.4" fill="#fb9f3a" stroke="#1a1a1a" stroke-width="0.9"/>
<circle cx="65.40" cy="361.39" r="3.4" fill="#fdca26" stroke="#1a1a1a" stroke-width="0.9"/>
<circle cx="118.50" cy="333.60" r="3.4" fill="#fdca26" stroke="#1a1a1a" stroke-width="0.9"/>
<circle cx="124.20" cy="319.35" r="3.4" fill="#fdca26" stroke="#1a1a1a" stroke-width="0.9"/>
<circle cx="141.90" cy="293.06" r="3.4" fill="#fdca26" stroke="#1a1a1a" stroke-width="0.9"/>
<circle cx="165.30" cy="329.47" r="3.4" fill="#fdca26" stroke="#1a1a1a" stroke-width="0.9"/>
<circle cx="183.00" cy="337.95" r="3.4" fill="#fdca26" stroke="#1a1a1a" stroke-width="0.9"/>
<circle cx="224.10" cy="355.83" r="3.4" fill="#fdca26" stroke="#1a1a1a" stroke-width="0.9"/>
<circle cx="241.80" cy="361.03" r="3.4" fill="#fdca26" stroke="#1a1a1a" stroke-width="0.9"/>
<circle cx="65.40" cy="361.25" r="3.4" fill="#f0f921" stroke="#1a1a1a" stroke-width="0.9"/>
<circle cx="118.50" cy="325.76" r="3.4" fill="#f0f921" stroke="#1a1a1a" stroke-width="0.9"/>
<circle cx="124.20" cy="311.87" r="3.4" fill="#f0f921" stroke="#1a1a1a" stroke-width="0.9"/>
<circle cx="141.90" cy="301.32" r="3.4" fill="#f0f921" stroke="#1a1a1a" stroke-width="0.9"/>
<circle cx="165.30" cy="345.93" r="3.4" fill="#f0f921" stroke="#1a1a1a" stroke-width="0.9"/>
<circle cx="183.00" cy="334.74" r="3.4" fill="#f0f921" stroke="#1a1a1a" stroke-width="0.9"/>
<circle cx="224.10" cy="353.55" r="3.4" fill="#f0f921" stroke="#1a1a1a" stroke-width="0.9"/>
<circle cx="241.80" cy="351.56" r="3.4" fill="#f0f921" stroke="#1a1a1a" stroke-width="0.9"/>
<path d="M173.90 260.00H185.40" stroke="#0d0887" stroke-width="1.1" stroke-dasharray="2 1.5"/>
<circle cx="179.60" cy="260.00" r="3.1" fill="#0d0887" stroke="#1a1a1a" stroke-width="0.9"/>
<text x="191.10" y="262.80" font-size="8.3" font-weight="normal" text-anchor="start" fill="#222" stroke="#000" stroke-width="0.15" textLength="8.2" lengthAdjust="spacingAndGlyphs">0.1</text>
<path d="M173.90 269.30H185.40" stroke="#46039f" stroke-width="1.1" stroke-dasharray="2 1.5"/>
<circle cx="179.60" cy="269.30" r="3.1" fill="#46039f" stroke="#1a1a1a" stroke-width="0.9"/>
<text x="191.10" y="272.10" font-size="8.3" font-weight="normal" text-anchor="start" fill="#222" stroke="#000" stroke-width="0.15" textLength="8.2" lengthAdjust="spacingAndGlyphs">0.2</text>
<path d="M173.90 278.60H185.40" stroke="#7201a8" stroke-width="1.1" stroke-dasharray="2 1.5"/>
<circle cx="179.60" cy="278.60" r="3.1" fill="#7201a8" stroke="#1a1a1a" stroke-width="0.9"/>
<text x="191.10" y="281.40" font-size="8.3" font-weight="normal" text-anchor="start" fill="#222" stroke="#000" stroke-width="0.15" textLength="8.2" lengthAdjust="spacingAndGlyphs">0.3</text>
<path d="M173.90 287.90H185.40" stroke="#9c179e" stroke-width="1.1" stroke-dasharray="2 1.5"/>
<circle cx="179.60" cy="287.90" r="3.1" fill="#9c179e" stroke="#1a1a1a" stroke-width="0.9"/>
<text x="191.10" y="290.70" font-size="8.3" font-weight="normal" text-anchor="start" fill="#222" stroke="#000" stroke-width="0.15" textLength="8.2" lengthAdjust="spacingAndGlyphs">0.4</text>
<path d="M173.90 297.20H185.40" stroke="#bd3786" stroke-width="1.1" stroke-dasharray="2 1.5"/>
<circle cx="179.60" cy="297.20" r="3.1" fill="#bd3786" stroke="#1a1a1a" stroke-width="0.9"/>
<text x="191.10" y="300.00" font-size="8.3" font-weight="normal" text-anchor="start" fill="#222" stroke="#000" stroke-width="0.15" textLength="8.2" lengthAdjust="spacingAndGlyphs">0.5</text>
<path d="M214.00 260.00H225.50" stroke="#d8576b" stroke-width="1.1" stroke-dasharray="2 1.5"/>
<circle cx="219.70" cy="260.00" r="3.1" fill="#d8576b" stroke="#1a1a1a" stroke-width="0.9"/>
<text x="231.20" y="262.80" font-size="8.3" font-weight="normal" text-anchor="start" fill="#222" stroke="#000" stroke-width="0.15" textLength="8.2" lengthAdjust="spacingAndGlyphs">0.6</text>
<path d="M214.00 269.30H225.50" stroke="#ed7953" stroke-width="1.1" stroke-dasharray="2 1.5"/>
<circle cx="219.70" cy="269.30" r="3.1" fill="#ed7953" stroke="#1a1a1a" stroke-width="0.9"/>
<text x="231.20" y="272.10" font-size="8.3" font-weight="normal" text-anchor="start" fill="#222" stroke="#000" stroke-width="0.15" textLength="8.2" lengthAdjust="spacingAndGlyphs">0.7</text>
<path d="M214.00 278.60H225.50" stroke="#fb9f3a" stroke-width="1.1" stroke-dasharray="2 1.5"/>
<circle cx="219.70" cy="278.60" r="3.1" fill="#fb9f3a" stroke="#1a1a1a" stroke-width="0.9"/>
<text x="231.20" y="281.40" font-size="8.3" font-weight="normal" text-anchor="start" fill="#222" stroke="#000" stroke-width="0.15" textLength="8.2" lengthAdjust="spacingAndGlyphs">0.8</text>
<path d="M214.00 287.90H225.50" stroke="#fdca26" stroke-width="1.1" stroke-dasharray="2 1.5"/>
<circle cx="219.70" cy="287.90" r="3.1" fill="#fdca26" stroke="#1a1a1a" stroke-width="0.9"/>
<text x="231.20" y="290.70" font-size="8.3" font-weight="normal" text-anchor="start" fill="#222" stroke="#000" stroke-width="0.15" textLength="8.2" lengthAdjust="spacingAndGlyphs">0.9</text>
<path d="M214.00 297.20H225.50" stroke="#f0f921" stroke-width="1.1" stroke-dasharray="2 1.5"/>
<circle cx="219.70" cy="297.20" r="3.1" fill="#f0f921" stroke="#1a1a1a" stroke-width="0.9"/>
<text x="231.20" y="300.00" font-size="8.3" font-weight="normal" text-anchor="start" fill="#222" stroke="#000" stroke-width="0.15" textLength="8.2" lengthAdjust="spacingAndGlyphs">1.0</text>
<text x="394.00" y="224.80" font-size="12.5" font-weight="normal" text-anchor="middle" fill="#000" >(<tspan font-weight="bold">d</tspan>)</text>
<rect x="263.2" y="232.5" width="282.3" height="198.7" fill="none" stroke="#8f8f8f" stroke-width="1.3"/>
<path d="M263.2 232.5H545.5" stroke="#555" stroke-width="1"/>
<path d="M404.5 232.5V431.2" stroke="#a8a8a8" stroke-width="3.2"/>
<path d="M263.2 331.9H545.5" stroke="#a8a8a8" stroke-width="3.5"/>
<g transform="translate(263.3 232.3)">
<text x="70.0" y="9.5" font-size="9" text-anchor="middle" stroke="#000" stroke-width="0.12" textLength="35" lengthAdjust="spacingAndGlyphs">FC = 2e16</text>
<text x="17.6" y="10.70" font-size="5" text-anchor="end" fill="#1a1a1a">-13</text>
<text x="17.6" y="25.05" font-size="5" text-anchor="end" fill="#1a1a1a">-12</text>
<text x="17.6" y="39.40" font-size="5" text-anchor="end" fill="#1a1a1a">-11</text>
<text x="17.6" y="53.75" font-size="5" text-anchor="end" fill="#1a1a1a">-10</text>
<text x="17.6" y="68.10" font-size="5" text-anchor="end" fill="#1a1a1a">-9</text>
<path d="M20.3 4.5V74.6" stroke="#666" stroke-width="0.6" stroke-dasharray="0.8 0.8"/>
<path d="M20.3 74.8H131" stroke="#666" stroke-width="0.6" stroke-dasharray="0.8 0.8"/>
<text x="34.90" y="81.9" font-size="5" text-anchor="middle" fill="#1a1a1a">34</text>
<text x="51.45" y="81.9" font-size="5" text-anchor="middle" fill="#1a1a1a">36</text>
<text x="68.00" y="81.9" font-size="5" text-anchor="middle" fill="#1a1a1a">38</text>
<text x="84.55" y="81.9" font-size="5" text-anchor="middle" fill="#1a1a1a">40</text>
<text x="101.10" y="81.9" font-size="5" text-anchor="middle" fill="#1a1a1a">42</text>
<text x="117.65" y="81.9" font-size="5" text-anchor="middle" fill="#1a1a1a">44</text>
<text x="66.6" y="89.1" font-size="9" textLength="21.2" lengthAdjust="spacingAndGlyphs">X (<tspan font-style="italic">μ</tspan>m)</text>
<text transform="translate(6.6 52.2) rotate(-90)" font-size="7.5" font-weight="bold" textLength="25" lengthAdjust="spacingAndGlyphs">Y (<tspan font-style="italic">μ</tspan>m)</text>
<defs><linearGradient id="cb0" x1="0" y1="0" x2="0" y2="1"><stop offset="0" stop-color="#ff0000"/><stop offset="0.22" stop-color="#ff9900"/><stop offset="0.38" stop-color="#ffff00"/><stop offset="0.58" stop-color="#00e000"/><stop offset="0.8" stop-color="#00e8ff"/><stop offset="1" stop-color="#0000ff"/></linearGradient></defs>
<rect x="102.8" y="12.8" width="5.3" height="23.6" fill="url(#cb0)"/>
<text x="102.3" y="10.2" font-size="3.6" fill="#111" textLength="24.8" lengthAdjust="spacingAndGlyphs">EF [V*cm^-1]</text>
<text x="108.6" y="15.50" font-size="3.6" fill="#111" textLength="13.5" lengthAdjust="spacingAndGlyphs">3.5e+06</text>
<text x="108.6" y="22.20" font-size="3.6" fill="#111" textLength="13.5" lengthAdjust="spacingAndGlyphs">2.4e+06</text>
<text x="108.6" y="29.40" font-size="3.6" fill="#111" textLength="13.5" lengthAdjust="spacingAndGlyphs">1.2e+06</text>
<text x="108.6" y="36.30" font-size="3.6" fill="#111" textLength="13.5" lengthAdjust="spacingAndGlyphs">1.0e+05</text>
<path d="M137 3.5v2" stroke="#555" stroke-width="0.5"/>
<svg x="20.6" y="39.2" width="106.3" height="35.5" viewBox="0 0 106.3 35.5" overflow="hidden">
<rect width="106.3" height="35.5" fill="#0303f8"/>
<path d="M48.40 0.00C48.27 1.78 48.20 6.63 47.61 10.65C47.02 14.67 46.03 19.91 44.84 24.14C43.66 28.37 41.22 34.02 40.50 36.00L-1 36.5L-1 -1L48.40 -1Z" fill="#1a50f0" stroke="#0a2a40" stroke-width="0.45"/>
<path d="M46.00 0.00C45.82 1.78 45.73 6.63 44.90 10.65C44.07 14.67 42.70 19.91 41.05 24.14C39.40 28.37 36.01 34.02 35.00 36.00L-1 36.5L-1 -1L46.00 -1Z" fill="#1a68f0" stroke="#0a2a40" stroke-width="0.45"/>
<path d="M43.50 0.00C43.27 1.78 43.15 6.63 42.10 10.65C41.05 14.67 39.30 19.91 37.20 24.14C35.10 28.37 30.78 34.02 29.50 36.00L-1 36.5L-1 -1L43.50 -1Z" fill="#1a80f0" stroke="#0a2a40" stroke-width="0.45"/>
<path d="M41.50 0.00C41.19 1.78 41.04 6.63 39.65 10.65C38.26 14.67 35.95 19.91 33.17 24.14C30.40 28.37 24.70 34.02 23.00 36.00L-1 36.5L-1 -1L41.50 -1Z" fill="#1898f0" stroke="#0a2a40" stroke-width="0.45"/>
<path d="M40.00 0.00C39.67 1.88 39.33 7.41 38.00 11.27C36.67 15.13 35.00 20.07 32.00 23.18C29.00 26.30 23.50 28.44 20.00 29.95C16.50 31.45 14.42 31.82 11.00 32.20C7.58 32.58 1.42 32.20 -0.50 32.20L-1 -1L40.0 -1Z" fill="#10a0f0" stroke="#0a2a40" stroke-width="0.45"/>
<path d="M36.50 0.00C36.23 1.63 35.95 6.44 34.85 9.80C33.75 13.16 32.38 17.45 29.90 20.16C27.42 22.87 23.15 24.73 20.00 26.04C16.85 27.35 14.42 27.67 11.00 28.00C7.58 28.33 1.42 28.00 -0.50 28.00L-1 -1L36.5 -1Z" fill="#08b8f0" stroke="#0a2a40" stroke-width="0.45"/>
<path d="M33.50 0.00C33.27 1.36 33.05 5.36 32.15 8.15C31.25 10.95 30.12 14.52 28.10 16.78C26.08 19.03 22.85 20.58 20.00 21.67C17.15 22.76 14.42 23.03 11.00 23.30C7.58 23.57 1.42 23.30 -0.50 23.30L-1 -1L33.5 -1Z" fill="#00ccf0" stroke="#0a2a40" stroke-width="0.45"/>
<path d="M31.40 0.00C31.21 1.04 31.02 4.09 30.26 6.23C29.50 8.37 28.55 11.10 26.84 12.82C25.13 14.54 22.64 15.72 20.00 16.55C17.36 17.38 14.42 17.59 11.00 17.80C7.58 18.01 1.42 17.80 -0.50 17.80L-1 -1L31.4 -1Z" fill="#00dcf0" stroke="#0a2a40" stroke-width="0.45"/>
<path d="M29.20 0.00C29.05 0.61 28.89 2.42 28.28 3.67C27.67 4.93 26.90 6.54 25.52 7.56C24.14 8.57 22.42 9.28 20.00 9.77C17.58 10.26 14.42 10.38 11.00 10.50C7.58 10.62 1.42 10.50 -0.50 10.50L-1 -1L29.2 -1Z" fill="#00e8f0" stroke="#0a2a40" stroke-width="0.45"/>
<path d="M26.00 0.00C25.93 0.75 26.27 3.13 25.60 4.50C24.93 5.87 23.43 7.68 22.00 8.20C20.57 8.72 19.00 8.07 17.00 7.60C15.00 7.13 12.92 6.08 10.00 5.40C7.08 4.72 1.25 3.82 -0.50 3.50L-1 -1L26 -1Z" fill="#00f2f0" stroke="#0a2a40" stroke-width="0.45"/>
<path d="M23 11.9H73.5V0" fill="none" stroke="#203050" stroke-width="0.5"/>
<ellipse cx="23.0" cy="1.0" rx="3.0" ry="2.8" fill="#30b040" opacity="0.85"/>
<ellipse cx="23.0" cy="0.8" rx="2.0" ry="1.9" fill="#081808"/>
</svg>
<rect x="20.6" y="32.1" width="23.3" height="7.2" fill="#0505e2"/>
<path d="M20.6 38.9H43.900000000000006" stroke="#000050" stroke-width="0.8"/>
</g>
<g transform="translate(405.3 232.3)">
<text x="70.0" y="9.5" font-size="9" text-anchor="middle" stroke="#000" stroke-width="0.12" textLength="35" lengthAdjust="spacingAndGlyphs">FC = 1e17</text>
<text x="17.6" y="10.70" font-size="5" text-anchor="end" fill="#1a1a1a">-13</text>
<text x="17.6" y="25.05" font-size="5" text-anchor="end" fill="#1a1a1a">-12</text>
<text x="17.6" y="39.40" font-size="5" text-anchor="end" fill="#1a1a1a">-11</text>
<text x="17.6" y="53.75" font-size="5" text-anchor="end" fill="#1a1a1a">-10</text>
<text x="17.6" y="68.10" font-size="5" text-anchor="end" fill="#1a1a1a">-9</text>
<path d="M20.3 4.5V74.6" stroke="#666" stroke-width="0.6" stroke-dasharray="0.8 0.8"/>
<path d="M20.3 74.8H131" stroke="#666" stroke-width="0.6" stroke-dasharray="0.8 0.8"/>
<text x="34.90" y="81.9" font-size="5" text-anchor="middle" fill="#1a1a1a">34</text>
<text x="51.45" y="81.9" font-size="5" text-anchor="middle" fill="#1a1a1a">36</text>
<text x="68.00" y="81.9" font-size="5" text-anchor="middle" fill="#1a1a1a">38</text>
<text x="84.55" y="81.9" font-size="5" text-anchor="middle" fill="#1a1a1a">40</text>
<text x="101.10" y="81.9" font-size="5" text-anchor="middle" fill="#1a1a1a">42</text>
<text x="117.65" y="81.9" font-size="5" text-anchor="middle" fill="#1a1a1a">44</text>
<text x="66.6" y="89.1" font-size="9" textLength="21.2" lengthAdjust="spacingAndGlyphs">X (<tspan font-style="italic">μ</tspan>m)</text>
<text transform="translate(6.6 52.2) rotate(-90)" font-size="7.5" font-weight="bold" textLength="25" lengthAdjust="spacingAndGlyphs">Y (<tspan font-style="italic">μ</tspan>m)</text>
<defs><linearGradient id="cb1" x1="0" y1="0" x2="0" y2="1"><stop offset="0" stop-color="#ff0000"/><stop offset="0.22" stop-color="#ff9900"/><stop offset="0.38" stop-color="#ffff00"/><stop offset="0.58" stop-color="#00e000"/><stop offset="0.8" stop-color="#00e8ff"/><stop offset="1" stop-color="#0000ff"/></linearGradient></defs>
<rect x="102.8" y="12.8" width="5.3" height="23.6" fill="url(#cb1)"/>
<text x="102.3" y="10.2" font-size="3.6" fill="#111" textLength="24.8" lengthAdjust="spacingAndGlyphs">EF [V*cm^-1]</text>
<text x="108.6" y="15.50" font-size="3.6" fill="#111" textLength="13.5" lengthAdjust="spacingAndGlyphs">3.5e+06</text>
<text x="108.6" y="22.20" font-size="3.6" fill="#111" textLength="13.5" lengthAdjust="spacingAndGlyphs">2.4e+06</text>
<text x="108.6" y="29.40" font-size="3.6" fill="#111" textLength="13.5" lengthAdjust="spacingAndGlyphs">1.2e+06</text>
<text x="108.6" y="36.30" font-size="3.6" fill="#111" textLength="13.5" lengthAdjust="spacingAndGlyphs">1.0e+05</text>
<path d="M137 3.5v2" stroke="#555" stroke-width="0.5"/>
<svg x="20.6" y="39.2" width="106.3" height="35.5" viewBox="0 0 106.3 35.5" overflow="hidden">
<rect width="106.3" height="35.5" fill="#0303f8"/>
<path d="M90.80 0.00C91.05 2.07 92.54 7.99 92.30 12.42C92.06 16.86 90.27 22.70 89.39 26.62C88.50 30.55 87.40 34.44 87.00 36.00L-1 36.5L-1 -1L90.80 -1Z" fill="#1450f0" stroke="#0a2a40" stroke-width="0.45"/>
<path d="M86.70 0.00C86.95 2.07 88.52 7.99 88.20 12.42C87.88 16.86 85.82 22.70 84.79 26.62C83.76 30.55 82.47 34.44 82.00 36.00L-1 36.5L-1 -1L86.70 -1Z" fill="#1a68f0" stroke="#0a2a40" stroke-width="0.45"/>
<path d="M83.40 0.00C83.61 2.07 85.14 7.99 84.65 12.42C84.16 16.86 81.72 22.70 80.44 26.62C79.17 30.55 77.57 34.44 77.00 36.00L-1 36.5L-1 -1L83.40 -1Z" fill="#1a80f0" stroke="#0a2a40" stroke-width="0.45"/>
<path d="M80.70 0.00C80.87 2.07 82.51 7.99 81.70 12.42C80.89 16.86 77.60 22.70 75.81 26.62C74.03 30.55 71.80 34.44 71.00 36.00L-1 36.5L-1 -1L80.70 -1Z" fill="#14a0f0" stroke="#0a2a40" stroke-width="0.45"/>
<path d="M-1 23.7C5.4 24.2 9.0 29.7 18 36.5L-1 36.5Z" fill="#1890f0" stroke="#0a2a40" stroke-width="0.45"/>
<path d="M-0.50 23.70C0.58 23.72 3.58 23.17 6.00 23.80C8.42 24.43 11.00 26.38 14.00 27.50C17.00 28.62 17.17 29.95 24.00 30.50C30.83 31.05 47.17 31.13 55.00 30.80C62.83 30.47 67.25 30.63 71.00 28.50C74.75 26.37 76.30 22.75 77.50 18.00C78.70 13.25 78.08 3.00 78.20 0.00L-1 -1Z" fill="#0cbcf0" stroke="#0a2a40" stroke-width="0.45"/>
<path d="M-0.50 23.70C0.58 23.72 3.58 23.33 6.00 23.80C8.42 24.27 11.33 25.80 14.00 26.50C16.67 27.20 15.17 27.72 22.00 28.00C28.83 28.28 47.00 28.62 55.00 28.20C63.00 27.78 66.58 27.70 70.00 25.50C73.42 23.30 74.25 19.25 75.50 15.00C76.75 10.75 77.17 2.50 77.50 0.00L-1 -1Z" fill="#02d0f0" stroke="#0a2a40" stroke-width="0.45"/>
<path d="M-0.50 14.00C0.75 14.08 4.58 13.42 7.00 14.50C9.42 15.58 11.17 18.83 14.00 20.50C16.83 22.17 17.17 23.80 24.00 24.50C30.83 25.20 47.50 25.12 55.00 24.70C62.50 24.28 65.92 24.12 69.00 22.00C72.08 19.88 72.63 15.67 73.50 12.00C74.37 8.33 74.08 2.00 74.20 0.00L-1 -1Z" fill="#00e2f0" stroke="#0a2a40" stroke-width="0.45"/>
<path d="M8.50 -0.50C8.67 1.08 8.42 6.17 9.50 9.00C10.58 11.83 12.42 14.90 15.00 16.50C17.58 18.10 18.33 18.22 25.00 18.60C31.67 18.98 47.67 19.07 55.00 18.80C62.33 18.53 66.03 18.18 69.00 17.00C71.97 15.82 72.17 14.53 72.80 11.70C73.43 8.87 72.80 1.95 72.80 0.00L8.50 -1Z" fill="#00eef0" stroke="#0a2a40" stroke-width="0.45"/>
<path d="M12 0C12.5 8.19 14 11.7 18 11.7H72.8V0Z" fill="#00f0f0" stroke="#203040" stroke-width="0.5"/>
<defs><radialGradient id="bl1" cx="0.5" cy="0.5" r="0.5" fx="0.5" fy="0.5"><stop offset="0" stop-color="#000088"/><stop offset="0.55" stop-color="#0010d0"/><stop offset="0.8" stop-color="#0a50f0"/><stop offset="0.92" stop-color="#06a8f0" stop-opacity="0.7"/><stop offset="1" stop-color="#00e0f0" stop-opacity="0"/></radialGradient></defs>
<ellipse cx="41.5" cy="0" rx="35" ry="12" fill="url(#bl1)"/>
</svg>
<rect x="20.6" y="32.1" width="23.3" height="7.2" fill="#0505e2"/>
<path d="M20.6 38.9H43.900000000000006" stroke="#000050" stroke-width="0.8"/>
</g>
<g transform="translate(263.3 332.2)">
<text x="70.0" y="9.5" font-size="9" text-anchor="middle" stroke="#000" stroke-width="0.12" textLength="35" lengthAdjust="spacingAndGlyphs">FC = 2e17</text>
<text x="17.6" y="10.70" font-size="5" text-anchor="end" fill="#1a1a1a">-13</text>
<text x="17.6" y="25.05" font-size="5" text-anchor="end" fill="#1a1a1a">-12</text>
<text x="17.6" y="39.40" font-size="5" text-anchor="end" fill="#1a1a1a">-11</text>
<text x="17.6" y="53.75" font-size="5" text-anchor="end" fill="#1a1a1a">-10</text>
<text x="17.6" y="68.10" font-size="5" text-anchor="end" fill="#1a1a1a">-9</text>
<path d="M20.3 4.5V74.6" stroke="#666" stroke-width="0.6" stroke-dasharray="0.8 0.8"/>
<path d="M20.3 74.8H131" stroke="#666" stroke-width="0.6" stroke-dasharray="0.8 0.8"/>
<text x="34.90" y="81.9" font-size="5" text-anchor="middle" fill="#1a1a1a">34</text>
<text x="51.45" y="81.9" font-size="5" text-anchor="middle" fill="#1a1a1a">36</text>
<text x="68.00" y="81.9" font-size="5" text-anchor="middle" fill="#1a1a1a">38</text>
<text x="84.55" y="81.9" font-size="5" text-anchor="middle" fill="#1a1a1a">40</text>
<text x="101.10" y="81.9" font-size="5" text-anchor="middle" fill="#1a1a1a">42</text>
<text x="117.65" y="81.9" font-size="5" text-anchor="middle" fill="#1a1a1a">44</text>
<text x="66.6" y="89.1" font-size="9" textLength="21.2" lengthAdjust="spacingAndGlyphs">X (<tspan font-style="italic">μ</tspan>m)</text>
<text transform="translate(6.6 52.2) rotate(-90)" font-size="7.5" font-weight="bold" textLength="25" lengthAdjust="spacingAndGlyphs">Y (<tspan font-style="italic">μ</tspan>m)</text>
<defs><linearGradient id="cb2" x1="0" y1="0" x2="0" y2="1"><stop offset="0" stop-color="#ff0000"/><stop offset="0.22" stop-color="#ff9900"/><stop offset="0.38" stop-color="#ffff00"/><stop offset="0.58" stop-color="#00e000"/><stop offset="0.8" stop-color="#00e8ff"/><stop offset="1" stop-color="#0000ff"/></linearGradient></defs>
<rect x="102.8" y="12.8" width="5.3" height="23.6" fill="url(#cb2)"/>
<text x="102.3" y="10.2" font-size="3.6" fill="#111" textLength="24.8" lengthAdjust="spacingAndGlyphs">EF [V*cm^-1]</text>
<text x="108.6" y="15.50" font-size="3.6" fill="#111" textLength="13.5" lengthAdjust="spacingAndGlyphs">3.5e+06</text>
<text x="108.6" y="22.20" font-size="3.6" fill="#111" textLength="13.5" lengthAdjust="spacingAndGlyphs">2.4e+06</text>
<text x="108.6" y="29.40" font-size="3.6" fill="#111" textLength="13.5" lengthAdjust="spacingAndGlyphs">1.2e+06</text>
<text x="108.6" y="36.30" font-size="3.6" fill="#111" textLength="13.5" lengthAdjust="spacingAndGlyphs">1.0e+05</text>
<path d="M137 3.5v2" stroke="#555" stroke-width="0.5"/>
<svg x="20.6" y="39.2" width="106.3" height="35.5" viewBox="0 0 106.3 35.5" overflow="hidden">
<rect width="106.3" height="35.5" fill="#0303f8"/>
<path d="M93.10 0.00C93.35 2.07 94.59 7.99 94.60 12.42C94.61 16.86 93.60 22.70 93.17 26.62C92.74 30.55 92.19 34.44 92.00 36.00L-1 36.5L-1 -1L93.10 -1Z" fill="#1450f0" stroke="#0a2a40" stroke-width="0.45"/>
<path d="M89.00 0.00C89.25 2.07 90.75 7.99 90.50 12.42C90.25 16.86 88.39 22.70 87.47 26.62C86.56 30.55 85.41 34.44 85.00 36.00L-1 36.5L-1 -1L89.00 -1Z" fill="#1a68f0" stroke="#0a2a40" stroke-width="0.45"/>
<path d="M85.80 0.00C86.01 2.07 87.67 7.99 87.05 12.42C86.43 16.86 83.58 22.70 82.07 26.62C80.56 30.55 78.68 34.44 78.00 36.00L-1 36.5L-1 -1L85.80 -1Z" fill="#1a80f0" stroke="#0a2a40" stroke-width="0.45"/>
<path d="M82.80 0.00C82.97 2.07 84.81 7.99 83.80 12.42C82.79 16.86 78.89 22.70 76.76 26.62C74.63 30.55 71.96 34.44 71.00 36.00L-1 36.5L-1 -1L82.80 -1Z" fill="#14a0f0" stroke="#0a2a40" stroke-width="0.45"/>
<path d="M-1 23.5C10.8 24.0 18.0 29.5 36 36.5L-1 36.5Z" fill="#1890f0" stroke="#0a2a40" stroke-width="0.45"/>
<path d="M-0.50 23.50C0.75 23.62 4.25 23.20 7.00 24.20C9.75 25.20 12.50 28.40 16.00 29.50C19.50 30.60 20.67 30.63 28.00 30.80C35.33 30.97 52.67 30.97 60.00 30.50C67.33 30.03 68.83 30.42 72.00 28.00C75.17 25.58 77.67 20.67 79.00 16.00C80.33 11.33 79.83 2.67 80.00 0.00L-1 -1Z" fill="#08c6f0" stroke="#0a2a40" stroke-width="0.45"/>
<path d="M10.00 -0.50C10.03 1.75 9.12 9.12 10.20 13.00C11.28 16.88 13.87 20.63 16.50 22.80C19.13 24.97 18.75 25.50 26.00 26.00C33.25 26.50 52.50 26.30 60.00 25.80C67.50 25.30 68.25 25.30 71.00 23.00C73.75 20.70 75.42 15.83 76.50 12.00C77.58 8.17 77.33 2.00 77.50 0.00L10.00 -1Z" fill="#00d0f0" stroke="#0a2a40" stroke-width="0.45"/>
<path d="M12.00 -0.50C12.13 1.42 11.63 8.00 12.80 11.00C13.97 14.00 16.13 16.20 19.00 17.50C21.87 18.80 23.17 18.55 30.00 18.80C36.83 19.05 53.33 19.22 60.00 19.00C66.67 18.78 67.67 19.00 70.00 17.50C72.33 16.00 73.15 12.92 74.00 10.00C74.85 7.08 74.92 1.67 75.10 0.00L12.00 -1Z" fill="#00e0f0" stroke="#0a2a40" stroke-width="0.45"/>
<path d="M14.00 -0.50C14.25 1.08 14.17 6.67 15.50 9.00C16.83 11.33 14.58 12.70 22.00 13.50C29.42 14.30 51.75 13.97 60.00 13.80C68.25 13.63 69.28 13.80 71.50 12.50C73.72 11.20 72.97 8.08 73.30 6.00C73.63 3.92 73.47 1.00 73.50 0.00L14.00 -1Z" fill="#00f2f2" stroke="#0a2a40" stroke-width="0.45"/>
<path d="M-1 -1L9.2 -1L9.2 0C9.2 7.75 4.6 15.5 -0.5 15.5Z" fill="#00e2f0" stroke="#0a2a40" stroke-width="0.45"/>
<path d="M14.2 0V11.00H71.30V0" fill="#00f4f0" stroke="#108070" stroke-width="0.6"/>
<ellipse cx="71.00" cy="5.50" rx="1.8" ry="6.60" fill="#30d070" opacity="0.85"/>
<path d="M14.5 0C14.5 5.5 15.5 8.8 19.5 8.8L65.80 8.8C69.30 8.8 70.20 6.5 70.20 0Z" fill="#0505e2"/>
</svg>
<rect x="20.6" y="32.1" width="23.3" height="7.2" fill="#0505e2"/>
<path d="M20.6 38.9H43.900000000000006" stroke="#000050" stroke-width="0.8"/>
</g>
<g transform="translate(405.3 332.2)">
<text x="70.0" y="9.5" font-size="9" text-anchor="middle" stroke="#000" stroke-width="0.12" textLength="35" lengthAdjust="spacingAndGlyphs">FC = 1e18</text>
<text x="17.6" y="10.70" font-size="5" text-anchor="end" fill="#1a1a1a">-13</text>
<text x="17.6" y="25.05" font-size="5" text-anchor="end" fill="#1a1a1a">-12</text>
<text x="17.6" y="39.40" font-size="5" text-anchor="end" fill="#1a1a1a">-11</text>
<text x="17.6" y="53.75" font-size="5" text-anchor="end" fill="#1a1a1a">-10</text>
<text x="17.6" y="68.10" font-size="5" text-anchor="end" fill="#1a1a1a">-9</text>
<path d="M20.3 4.5V74.6" stroke="#666" stroke-width="0.6" stroke-dasharray="0.8 0.8"/>
<path d="M20.3 74.8H131" stroke="#666" stroke-width="0.6" stroke-dasharray="0.8 0.8"/>
<text x="34.90" y="81.9" font-size="5" text-anchor="middle" fill="#1a1a1a">34</text>
<text x="51.45" y="81.9" font-size="5" text-anchor="middle" fill="#1a1a1a">36</text>
<text x="68.00" y="81.9" font-size="5" text-anchor="middle" fill="#1a1a1a">38</text>
<text x="84.55" y="81.9" font-size="5" text-anchor="middle" fill="#1a1a1a">40</text>
<text x="101.10" y="81.9" font-size="5" text-anchor="middle" fill="#1a1a1a">42</text>
<text x="117.65" y="81.9" font-size="5" text-anchor="middle" fill="#1a1a1a">44</text>
<text x="66.6" y="89.1" font-size="9" textLength="21.2" lengthAdjust="spacingAndGlyphs">X (<tspan font-style="italic">μ</tspan>m)</text>
<text transform="translate(6.6 52.2) rotate(-90)" font-size="7.5" font-weight="bold" textLength="25" lengthAdjust="spacingAndGlyphs">Y (<tspan font-style="italic">μ</tspan>m)</text>
<defs><linearGradient id="cb3" x1="0" y1="0" x2="0" y2="1"><stop offset="0" stop-color="#ff0000"/><stop offset="0.22" stop-color="#ff9900"/><stop offset="0.38" stop-color="#ffff00"/><stop offset="0.58" stop-color="#00e000"/><stop offset="0.8" stop-color="#00e8ff"/><stop offset="1" stop-color="#0000ff"/></linearGradient></defs>
<rect x="102.8" y="12.8" width="5.3" height="23.6" fill="url(#cb3)"/>
<text x="102.3" y="10.2" font-size="3.6" fill="#111" textLength="24.8" lengthAdjust="spacingAndGlyphs">EF [V*cm^-1]</text>
<text x="108.6" y="15.50" font-size="3.6" fill="#111" textLength="13.5" lengthAdjust="spacingAndGlyphs">3.5e+06</text>
<text x="108.6" y="22.20" font-size="3.6" fill="#111" textLength="13.5" lengthAdjust="spacingAndGlyphs">2.4e+06</text>
<text x="108.6" y="29.40" font-size="3.6" fill="#111" textLength="13.5" lengthAdjust="spacingAndGlyphs">1.2e+06</text>
<text x="108.6" y="36.30" font-size="3.6" fill="#111" textLength="13.5" lengthAdjust="spacingAndGlyphs">1.0e+05</text>
<path d="M137 3.5v2" stroke="#555" stroke-width="0.5"/>
<svg x="20.6" y="39.2" width="106.3" height="35.5" viewBox="0 0 106.3 35.5" overflow="hidden">
<rect width="106.3" height="35.5" fill="#0303f8"/>
<path d="M95.00 0.00C95.25 2.07 96.57 7.99 96.50 12.42C96.43 16.86 95.16 22.70 94.58 26.62C93.99 30.55 93.26 34.44 93.00 36.00L-1 36.5L-1 -1L95.00 -1Z" fill="#1450f0" stroke="#0a2a40" stroke-width="0.45"/>
<path d="M90.80 0.00C91.05 2.07 92.63 7.99 92.30 12.42C91.97 16.86 89.88 22.70 88.83 26.62C87.78 30.55 86.47 34.44 86.00 36.00L-1 36.5L-1 -1L90.80 -1Z" fill="#1a68f0" stroke="#0a2a40" stroke-width="0.45"/>
<path d="M87.10 0.00C87.31 2.07 89.00 7.99 88.35 12.42C87.70 16.86 84.77 22.70 83.21 26.62C81.65 30.55 79.70 34.44 79.00 36.00L-1 36.5L-1 -1L87.10 -1Z" fill="#1a80f0" stroke="#0a2a40" stroke-width="0.45"/>
<path d="M83.90 0.00C84.07 2.07 85.92 7.99 84.90 12.42C83.88 16.86 79.96 22.70 77.81 26.62C75.66 30.55 72.97 34.44 72.00 36.00L-1 36.5L-1 -1L83.90 -1Z" fill="#14a0f0" stroke="#0a2a40" stroke-width="0.45"/>
<path d="M-1 23.2C10.8 23.7 18.0 29.2 36 36.5L-1 36.5Z" fill="#1890f0" stroke="#0a2a40" stroke-width="0.45"/>
<path d="M-0.50 23.20C0.75 23.33 4.08 23.12 7.00 24.00C9.92 24.88 13.17 27.67 17.00 28.50C20.83 29.33 22.83 28.92 30.00 29.00C37.17 29.08 52.83 29.33 60.00 29.00C67.17 28.67 69.67 29.33 73.00 27.00C76.33 24.67 78.72 19.50 80.00 15.00C81.28 10.50 80.58 2.50 80.70 0.00L-1 -1Z" fill="#08c6f0" stroke="#0a2a40" stroke-width="0.45"/>
<path d="M9.50 -0.50C9.55 1.42 9.05 7.58 9.80 11.00C10.55 14.42 11.30 17.75 14.00 20.00C16.70 22.25 18.33 23.78 26.00 24.50C33.67 25.22 52.33 24.72 60.00 24.30C67.67 23.88 69.17 24.05 72.00 22.00C74.83 19.95 76.08 15.67 77.00 12.00C77.92 8.33 77.42 2.00 77.50 0.00L9.50 -1Z" fill="#00d0f0" stroke="#0a2a40" stroke-width="0.45"/>
<path d="M11.50 -0.50C11.63 1.25 11.22 7.08 12.30 10.00C13.38 12.92 15.05 15.42 18.00 17.00C20.95 18.58 23.00 19.12 30.00 19.50C37.00 19.88 53.17 19.63 60.00 19.30C66.83 18.97 68.62 19.22 71.00 17.50C73.38 15.78 73.68 11.92 74.30 9.00C74.92 6.08 74.63 1.50 74.70 0.00L11.50 -1Z" fill="#00e0f0" stroke="#0a2a40" stroke-width="0.45"/>
<path d="M13.50 -0.50C13.75 1.08 13.75 6.58 15.00 9.00C16.25 11.42 13.50 13.08 21.00 14.00C28.50 14.92 51.58 14.75 60.00 14.50C68.42 14.25 69.28 13.92 71.50 12.50C73.72 11.08 72.97 8.08 73.30 6.00C73.63 3.92 73.47 1.00 73.50 0.00L13.50 -1Z" fill="#00f2f2" stroke="#0a2a40" stroke-width="0.45"/>
<path d="M-1 -1L9.0 -1L9.0 0C9.0 8.0 4.5 16.0 -0.5 16.0Z" fill="#00e2f0" stroke="#0a2a40" stroke-width="0.45"/>
<ellipse cx="73.60000000000001" cy="5.72" rx="2.6" ry="7.80" fill="#38d060" opacity="0.75"/>
<path d="M15.1 0C15.1 7.80 16 10.40 19.5 10.40L72.40 10.40L72.40 0Z" fill="#0505e2"/>
<path d="M16.5 10.30C17.5 10.90 19 10.90 20 10.90L72.40 10.90" fill="none" stroke="#000814" stroke-width="1.3"/>
<ellipse cx="72.40" cy="10.40" rx="1.6" ry="1.3" fill="#001008"/>
</svg>
<rect x="20.6" y="32.1" width="23.3" height="7.2" fill="#0505e2"/>
<path d="M20.6 38.9H43.900000000000006" stroke="#000050" stroke-width="0.8"/>
</g>
</svg></body></html>
